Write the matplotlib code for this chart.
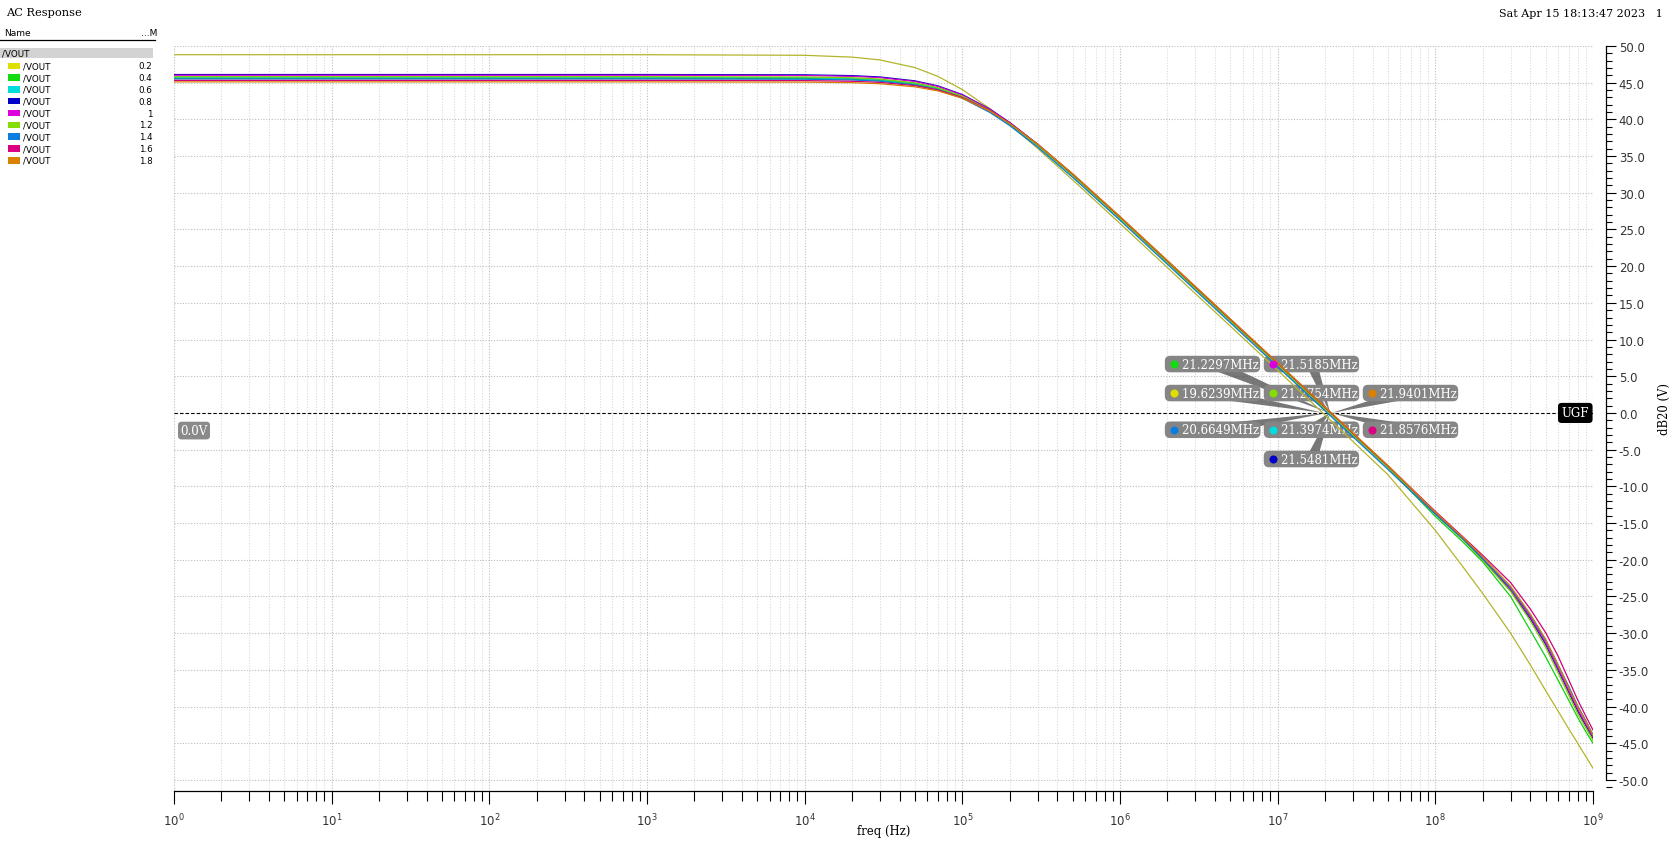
import matplotlib
matplotlib.use("Agg")
import matplotlib.pyplot as plt
import matplotlib.transforms as mtransforms
from matplotlib.lines import Line2D
from matplotlib.patches import Rectangle
from matplotlib.ticker import LogLocator, MultipleLocator, FormatStrFormatter, NullFormatter

plt.rcParams['axes.unicode_minus'] = False

# sweep values (legend) and UGF marker readouts in MHz
sweep = ['0.2', '0.4', '0.6', '0.8', '1', '1.2', '1.4', '1.6', '1.8']
ugf_mhz = [19.6239, 21.2297, 21.3974, 21.5481, 21.5185, 21.2754, 20.6649, 21.8576, 21.9401]

freq = [1, 1e3, 1e4, 2e4, 3e4, 5e4, 7e4, 1e5, 1.5e5, 2e5, 3e5, 5e5, 1e6, 1e7, 5e7,
        1e8, 1.5e8, 2e8, 3e8, 4e8, 5e8, 6e8, 7e8, 8e8, 9e8, 1e9]

# dB20 of /VOUT for each sweep value
gain_02 = [48.80, 48.80, 48.72, 48.47, 48.09, 47.05, 45.85, 44.05, 41.43, 39.29, 36.05, 31.76, 25.81, 5.82, -8.40,
           -16.0, -21.0, -24.6, -30.0, -34.3, -37.8, -40.6, -43.0, -45.0, -46.8, -48.4]
gain_04 = [45.60, 45.60, 45.57, 45.46, 45.30, 44.80, 44.16, 43.03, 41.11, 39.34, 36.44, 32.35, 26.48, 6.54, -7.44,
           -14.1, -17.6, -20.3, -25.0, -29.6, -33.2, -36.4, -39.1, -41.5, -43.4, -45.0]
gain_06 = [45.70, 45.70, 45.67, 45.56, 45.39, 44.90, 44.25, 43.12, 41.19, 39.42, 36.51, 32.42, 26.55, 6.61, -7.37,
           -13.7, -17.2, -19.8, -23.9, -27.6, -31.0, -34.5, -37.5, -40.1, -42.0, -43.8]
gain_08 = [46.10, 46.10, 46.06, 45.95, 45.77, 45.24, 44.55, 43.37, 41.37, 39.56, 36.61, 32.50, 26.62, 6.67, -7.31,
           -13.6, -17.1, -19.9, -24.2, -28.0, -31.5, -35.0, -38.0, -40.6, -42.6, -44.3]
gain_10 = [46.00, 46.00, 45.96, 45.85, 45.68, 45.15, 44.48, 43.31, 41.33, 39.53, 36.59, 32.48, 26.61, 6.66, -7.32,
           -13.6, -17.1, -19.9, -24.0, -27.8, -31.3, -34.8, -37.8, -40.4, -42.4, -44.1]
gain_12 = [45.80, 45.80, 45.76, 45.66, 45.48, 44.97, 44.30, 43.15, 41.19, 39.40, 36.47, 32.38, 26.51, 6.56, -7.42,
           -13.8, -17.3, -20.1, -24.3, -28.3, -31.9, -35.4, -38.4, -41.0, -42.9, -44.6]
gain_14 = [45.50, 45.50, 45.46, 45.36, 45.19, 44.68, 44.02, 42.87, 40.92, 39.14, 36.22, 32.12, 26.25, 6.30, -7.68,
           -13.8, -17.2, -19.9, -23.8, -27.5, -30.9, -34.3, -37.2, -39.9, -41.9, -43.9]
gain_16 = [45.30, 45.30, 45.27, 45.18, 45.03, 44.59, 44.00, 42.97, 41.16, 39.46, 36.62, 32.57, 26.73, 6.79, -7.19,
           -13.4, -16.9, -19.4, -23.1, -26.7, -29.9, -33.1, -36.3, -39.1, -41.3, -43.2]
gain_18 = [45.10, 45.10, 45.07, 44.99, 44.85, 44.43, 43.87, 42.87, 41.10, 39.43, 36.62, 32.60, 26.76, 6.83, -7.15,
           -13.5, -17.0, -19.6, -23.6, -27.4, -30.8, -34.3, -37.4, -40.0, -42.0, -43.9]
gains = [gain_02, gain_04, gain_06, gain_08, gain_10, gain_12, gain_14, gain_16, gain_18]

swatch_colors = ['#dede00', '#10dc10', '#00dcdc', '#0000c8', '#dc00dc', '#84dc00', '#0a7ee0', '#dc0080', '#dc8000']
line_colors = ['#b4b42c', '#10d010', '#00c8c8', '#0000c0', '#d000d0', '#7cd000', '#0a78d8', '#d00078', '#d87c00']

# marker label layout: column / row of each readout box
label_col = [0, 0, 1, 1, 1, 1, 0, 2, 2]
label_row = [1, 0, 2, 3, 0, 1, 2, 2, 1]
col_left = [1.975e6, 8.38e6, 3.555e7]
col_mid = [3.87e6, 1.645e7, 6.98e7]
row_db = [6.66, 2.71, -2.29, -6.28]

W, H = 1673, 845
fig = plt.figure(figsize=(W / 100, H / 100), dpi=100)


def fx(px):
    return px / W


def fy(py):
    return 1 - py / H


ax = fig.add_axes([fx(174), fy(792), (1593 - 174) / W, (792 - 46.9) / H])
ax.set_xscale('log')
ax.set_xlim(1, 1e9)
ax.set_ylim(-51.5, 50)

for s in ['top', 'left']:
    ax.spines[s].set_visible(False)
ax.spines['bottom'].set_linewidth(0.9)
ax.spines['right'].set_position(('outward', 9.4))
ax.spines['right'].set_bounds(-50, 50)
ax.spines['right'].set_linewidth(0.9)

ax.yaxis.tick_right()
ax.yaxis.set_major_locator(MultipleLocator(5))
ax.yaxis.set_minor_locator(MultipleLocator(1))
ax.yaxis.set_major_formatter(FormatStrFormatter('%.1f'))
ax.xaxis.set_major_locator(LogLocator(base=10, numticks=20))
ax.xaxis.set_minor_locator(LogLocator(base=10, subs=range(2, 10), numticks=20))
ax.xaxis.set_minor_formatter(NullFormatter())

ax.tick_params(axis='y', which='major', length=7.2, width=0.8, direction='out', pad=2,
               labelsize=8.5, labelcolor='#333333')
ax.tick_params(axis='y', which='minor', length=4.1, width=0.8, direction='out')
ax.tick_params(axis='x', which='major', length=9.6, width=0.8, direction='out', pad=5,
               labelsize=8.5, labelcolor='#333333')
ax.tick_params(axis='x', which='minor', length=6.9, width=0.8, direction='out')

ax.grid(which='major', axis='both', ls=(0, (1, 1.5)), color='#bdbdbd', lw=0.8)
ax.grid(which='minor', axis='x', ls=(0, (1, 1.5)), color='#dadada', lw=0.8)
ax.set_axisbelow(True)

# curves
for vals, c in zip(gains, line_colors):
    ax.plot(freq, vals, color=c, lw=0.9, zorder=5)

# 0 dB reference line
ax.axhline(0, color='black', lw=0.8, ls=(0, (3, 2)), zorder=3)
yblend = mtransforms.blended_transform_factory(ax.transAxes, ax.transData)
ax.text(0.9972, 0, 'UGF', transform=yblend, ha='right', va='center', color='white',
        family='DejaVu Serif', fontsize=8.5, zorder=7,
        bbox=dict(boxstyle='round,pad=0.3,rounding_size=0.3', fc='black', ec='none'))
ax.text(0.0045, -2.4, '0.0V', transform=yblend, ha='left', va='center', color='white',
        family='DejaVu Serif', fontsize=8.5, zorder=7,
        bbox=dict(boxstyle='round,pad=0.2,rounding_size=0.3', fc='#8a8a8a', ec='none'))

# UGF marker readouts
dot_shift = mtransforms.ScaledTranslation(7.5 / 100, 0, fig.dpi_scale_trans)
for i, u in enumerate(ugf_mhz):
    c, r = label_col[i], label_row[i]
    ax.annotate('', xy=(u * 1e6, 0), xytext=(col_mid[c], row_db[r]), zorder=3,
                arrowprops=dict(arrowstyle='wedge,tail_width=0.8,shrink_factor=0.5',
                                fc='#4a4a4a', ec='none', alpha=0.75, shrinkA=0, shrinkB=0))
    ax.text(col_left[c], row_db[r], '    %.4fMHz' % u, ha='left', va='center', color='white',
            family='DejaVu Serif', fontsize=8.5, zorder=4,
            bbox=dict(boxstyle='round,pad=0.15,rounding_size=0.45', fc='#858585', ec='none'))
    ax.plot([col_left[c]], [row_db[r]], marker='o', ms=5.8, mec='none', color=swatch_colors[i],
            transform=ax.transData + dot_shift, zorder=6)

# axis titles
fig.text(fx(883.5), fy(832), 'freq (Hz)', ha='center', va='center', family='DejaVu Serif', fontsize=8.4)
fig.text(fx(1664), fy(409), 'dB20 (V)', ha='center', va='center', rotation=90,
         family='DejaVu Serif', fontsize=8.4)

# header
fig.text(fx(6), fy(13), 'AC Response', ha='left', va='center', family='DejaVu Serif', fontsize=8.2)
fig.text(fx(1663), fy(14), 'Sat Apr 15 18:13:47 2023   1', ha='right', va='center',
         family='DejaVu Serif', fontsize=8)

# legend panel
fig.text(fx(4), fy(33), 'Name', ha='left', va='center', family='DejaVu Sans', fontsize=6.5)
fig.text(fx(157), fy(33), '...M', ha='right', va='center', family='DejaVu Sans', fontsize=6.5)
fig.add_artist(Line2D([0, fx(155)], [fy(40.7), fy(40.7)], color='black', lw=0.9))
fig.add_artist(Rectangle((0, fy(58.7)), fx(153), 9.4 / H, transform=fig.transFigure,
                         fc='#d3d3d3', ec='none'))
fig.text(fx(2), fy(54), '/VOUT', ha='left', va='center', family='DejaVu Sans', fontsize=6.3)
for i, v in enumerate(sweep):
    yc = 66.7 + i * 11.83
    fig.add_artist(Rectangle((fx(8.3), fy(yc + 3.2)), 11.7 / W, 6.4 / H, transform=fig.transFigure,
                             fc=swatch_colors[i], ec='none'))
    fig.text(fx(23.3), fy(yc), '/VOUT', ha='left', va='center', family='DejaVu Sans', fontsize=6.3)
    fig.text(fx(152.3), fy(yc), v, ha='right', va='center', family='DejaVu Sans', fontsize=6.3)

fig.savefig('out.png', dpi=100, facecolor='white')
